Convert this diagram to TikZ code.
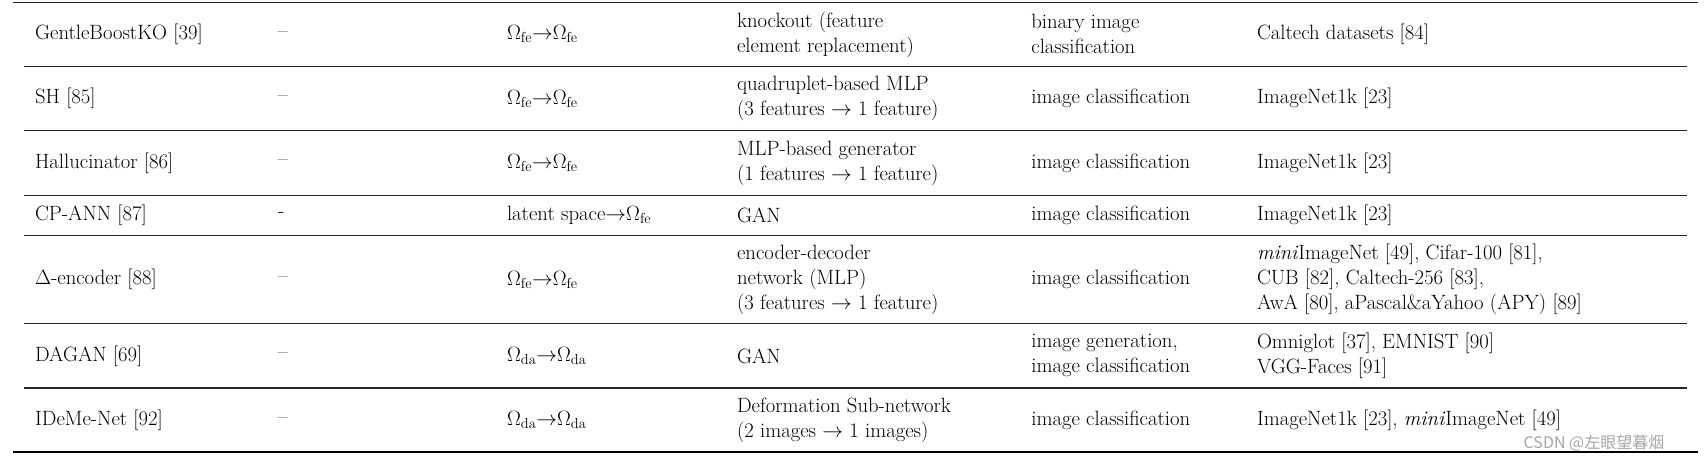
\documentclass[tikz,border=0pt]{standalone}
\usepackage{fontspec}
\newfontfamily\cjk{Noto Sans CJK SC}
\usetikzlibrary{positioning}
\tikzset{
  cell/.style={anchor=west, align=left, inner sep=0pt, font=\fontsize{20.7}{25}\selectfont},
  rule/.style={line width=1.2pt, black!85},
}
\newcommand{\fe}{\Omega_{\mathrm{fe}}}
\newcommand{\da}{\Omega_{\mathrm{da}}}
\begin{document}
\begin{tikzpicture}[x=1.09pt,y=-1.09pt]
\useasboundingbox (0,0) rectangle (1566,426.6);

% rules
\draw[rule] (12,2) -- (1558,2);
\foreach \y in {61,120,179,216,297,356} \draw[rule] (22,\y) -- (1548,\y);
\draw[line width=2.2pt] (12,415) -- (1558,415);

% row 1
\path
(32,31.5)  node[cell] (m1) {GentleBoostKO [39]}
(255,31.5) node[cell] (p1) {--}
(465,31.5) node[cell] (s1) {$\fe{\to}\fe$}
(676,31.5) node[cell] (g1) {knockout (feature\\element replacement)}
(946,31.5) node[cell] (t1) {binary image\\classification}
(1153,31.5) node[cell] (d1) {Caltech datasets [84]};

% row 2
\path
(32,90.5)  node[cell] (m2) {SH [85]}
(255,90.5) node[cell] (p2) {--}
(465,90.5) node[cell] (s2) {$\fe{\to}\fe$}
(676,90.5) node[cell] (g2) {quadruplet-based MLP\\(3 features $\to$ 1 feature)}
(946,90.5) node[cell] (t2) {image classification}
(1153,90.5) node[cell] (d2) {ImageNet1k [23]};

% row 3
\path
(32,149.5)  node[cell] (m3) {Hallucinator [86]}
(255,149.5) node[cell] (p3) {--}
(465,149.5) node[cell] (s3) {$\fe{\to}\fe$}
(676,149.5) node[cell] (g3) {MLP-based generator\\(1 features $\to$ 1 feature)}
(946,149.5) node[cell] (t3) {image classification}
(1153,149.5) node[cell] (d3) {ImageNet1k [23]};

% row 4
\path
(32,197.5)  node[cell] (m4) {CP-ANN [87]}
(255,197.5) node[cell] (p4) {-}
(465,197.5) node[cell] (s4) {latent space${\to}\fe$}
(676,197.5) node[cell] (g4) {GAN}
(946,197.5) node[cell] (t4) {image classification}
(1153,197.5) node[cell] (d4) {ImageNet1k [23]};

% row 5
\path
(32,256.5)  node[cell] (m5) {$\Delta$-encoder [88]}
(255,256.5) node[cell] (p5) {--}
(465,256.5) node[cell] (s5) {$\fe{\to}\fe$}
(676,256.5) node[cell] (g5) {encoder-decoder\\network (MLP)\\(3 features $\to$ 1 feature)}
(946,256.5) node[cell] (t5) {image classification}
(1153,256.5) node[cell] (d5) {\textit{mini}ImageNet [49], Cifar-100 [81],\\CUB [82], Caltech-256 [83],\\AwA [80], aPascal\&aYahoo (APY) [89]};

% row 6
\path
(32,326.5)  node[cell] (m6) {DAGAN [69]}
(255,326.5) node[cell] (p6) {--}
(465,326.5) node[cell] (s6) {$\da{\to}\da$}
(676,326.5) node[cell] (g6) {GAN}
(946,326.5) node[cell] (t6) {image generation,\\image classification}
(1153,326.5) node[cell] (d6) {Omniglot [37], EMNIST [90]\\VGG-Faces [91]};

% row 7
\path
(32,385.5)  node[cell] (m7) {IDeMe-Net [92]}
(255,385.5) node[cell] (p7) {--}
(465,385.5) node[cell] (s7) {$\da{\to}\da$}
(676,385.5) node[cell] (g7) {Deformation Sub-network\\(2 images $\to$ 1 images)}
(946,385.5) node[cell] (t7) {image classification}
(1153,385.5) node[cell] (d7) {ImageNet1k [23], \textit{mini}ImageNet [49]};

% watermark
\node[anchor=east, inner sep=0pt, black!35, font=\cjk\fontsize{16}{16}\selectfont] (wm) at (1527,407) {CSDN @左眼望暮烟};
\end{tikzpicture}
\end{document}
